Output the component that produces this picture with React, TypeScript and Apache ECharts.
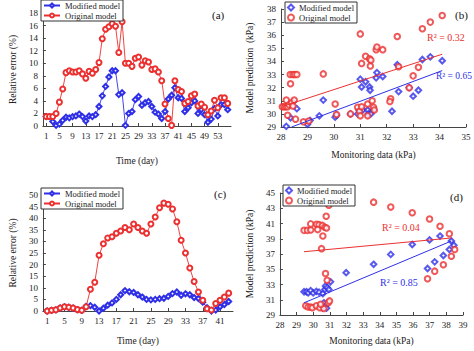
import React, { useEffect, useRef } from "react";
import * as echarts from "echarts";

const FONT = "'Liberation Serif', 'Times New Roman', serif";
const BLUE = "#2f2fe8";
const RED = "#ec2f2f";

// ---------- Panel (a) ----------
const aTicks = [1, 5, 9, 13, 17, 21, 25, 29, 33, 37, 41, 45, 49, 53];
const aModified = [1.5, 1.5, 0.7, 0.1, 0.3, 0.9, 1.4, 1.3, 1.5, 1.6, 1.9, 1.5, 0.8, 1.6, 1.5, 1.8, 3.1, 4.8, 6.3, 7.8, 8.8, 8.8, 5.0, 5.3, 0.1, 2.0, 2.3, 4.2, 4.7, 3.3, 3.7, 3.9, 3.1, 2.2, 1.9, 1.2, 2.3, 4.3, 4.9, 6.1, 4.5, 4.4, 2.3, 2.9, 3.7, 4.0, 2.0, 2.6, 1.8, 0.6, 1.1, 2.8, 1.6, 3.4, 3.4, 2.6];
const aOriginal = [1.5, 1.5, 1.5, 2.0, 3.8, 5.9, 8.5, 8.8, 8.6, 8.6, 8.8, 8.3, 7.6, 8.7, 8.4, 9.0, 10.1, 13.9, 15.4, 15.8, 16.3, 15.9, 11.7, 16.6, 10.0, 10.0, 9.5, 10.8, 11.0, 9.7, 10.4, 10.2, 9.0, 9.1, 8.6, 7.2, 3.5, 1.2, 0.1, 7.2, 5.8, 5.5, 3.6, 3.9, 4.8, 5.1, 3.2, 3.5, 3.0, 1.8, 2.4, 4.1, 2.9, 4.5, 4.5, 3.6];

// ---------- Panel (c) ----------
const cTicks = [1, 5, 9, 13, 17, 21, 25, 29, 33, 37, 41];
const cModified = [0, 0.3, 0.5, 1.3, 1.8, 1.6, 1.3, 0.6, 0.3, 2.0, 2.3, 1.6, 0, 1.2, 2.5, 3.5, 5.0, 7.0, 8.8, 8.3, 8.0, 7.0, 6.0, 5.0, 4.8, 5.0, 5.3, 5.5, 6.3, 7.5, 8.2, 6.8, 7.4, 7.0, 5.8, 5.4, 3.8, 1.4, 0, 0.4, 1.8, 2.8, 4.1];
const cOriginal = [0, 0.3, 0.5, 1.3, 1.8, 1.6, 1.3, 0.6, 0.3, 1.8, 9.4, 12.4, 24, 29, 31.5, 32, 33.5, 34.5, 36, 35, 37.5, 36, 34.5, 33.5, 37.5, 40.5, 44.5, 46.5, 46, 44, 38.5, 30.5, 25, 18.5, 12.7, 8.2, 4.6, 1.0, 0.4, 3.2, 4.6, 6.0, 7.7];

// ---------- Panel (b) ----------
const bModified = [[28.2, 29.05], [28.36, 29.7], [28.45, 30.9], [28.6, 30.4], [29.0, 29.2], [29.1, 29.5], [29.45, 29.85], [29.6, 31.05], [30.05, 29.75], [30.1, 29.9], [30.63, 30.0], [30.9, 30.0], [30.95, 30.3], [31.0, 32.65], [31.05, 32.05], [31.1, 30.3], [31.2, 32.45], [31.28, 30.3], [31.3, 30.0], [31.35, 32.05], [31.37, 31.8], [31.4, 30.0], [31.5, 30.3], [31.6, 32.75], [31.63, 33.15], [31.85, 32.85], [32.2, 30.2], [32.4, 33.75], [32.45, 31.7], [32.85, 32.0], [33.0, 31.35], [33.2, 31.8], [33.35, 34.15], [33.65, 34.35], [34.1, 34.05]];
const bOriginal = [[28.05, 30.55], [28.12, 30.55], [28.18, 30.55], [28.25, 30.55], [28.3, 30.7], [28.2, 31.05], [28.25, 29.9], [28.36, 32.3], [28.35, 33.0], [28.45, 33.0], [28.52, 33.0], [28.6, 33.0], [28.4, 30.85], [28.5, 31.05], [28.45, 30.6], [28.55, 29.6], [28.85, 29.4], [29.05, 29.45], [29.6, 33.05], [30.05, 30.75], [30.1, 29.95], [30.63, 30.0], [30.9, 30.5], [30.97, 30.2], [31.0, 36.1], [31.05, 33.85], [31.05, 30.55], [31.0, 29.85], [31.2, 34.4], [31.28, 29.85], [31.28, 30.75], [31.35, 34.2], [31.4, 34.1], [31.38, 33.65], [31.45, 31.0], [31.5, 30.5], [31.53, 30.3], [31.6, 34.9], [31.63, 35.1], [31.85, 34.9], [32.15, 31.15], [32.12, 30.95], [32.4, 35.9], [32.45, 33.6], [32.85, 32.0], [33.0, 32.9], [33.2, 33.55], [33.35, 36.5], [33.65, 37.0], [34.1, 37.5]];
const bTrendModified = [[28.4, 29.0], [34.1, 33.3]];
const bTrendOriginal = [[28.1, 30.6], [34.1, 34.55]];
const bR2Modified = "R\u00b2 = 0.65";
const bR2Original = "R\u00b2 = 0.32";

// ---------- Panel (d) ----------
const dModified = [[29.45, 32.05], [29.6, 32.05], [29.7, 31.9], [29.85, 32.2], [30.0, 31.9], [30.19, 32.1], [30.35, 32.0], [30.58, 31.8], [30.7, 32.35], [30.74, 32.8], [30.84, 32.6], [30.94, 32.35], [31.04, 33.35], [30.64, 30.6], [30.74, 30.2], [30.55, 29.95], [30.8, 29.9], [31.98, 34.55], [33.63, 35.65], [34.66, 36.95], [35.95, 38.25], [36.99, 38.85], [37.62, 39.35], [37.82, 36.8], [37.3, 35.97], [36.87, 35.1], [38.18, 37.6], [38.3, 38.7], [38.45, 38.15]];
const dOriginal = [[29.45, 40.1], [29.65, 40.1], [29.85, 40.15], [29.85, 40.95], [30.2, 40.9], [30.35, 40.85], [30.55, 40.75], [30.7, 40.5], [30.8, 40.4], [30.27, 40.2], [30.58, 39.35], [30.78, 41.95], [30.94, 43.4], [30.5, 37.7], [30.74, 34.45], [30.84, 33.55], [29.55, 30.2], [29.7, 30.05], [29.85, 30.05], [29.95, 29.95], [30.19, 30.2], [30.4, 29.95], [30.64, 29.85], [30.9, 30.6], [30.98, 30.85], [30.45, 30.4], [33.63, 43.8], [34.66, 43.15], [35.95, 42.4], [36.99, 41.6], [37.62, 40.65], [38.18, 39.65], [38.3, 36.7], [38.5, 37.6], [37.82, 35.6], [37.3, 34.75], [36.87, 33.75]];
const dTrendModified = [[29.45, 30.6], [38.3, 38.7]];
const dTrendOriginal = [[29.45, 37.3], [38.3, 39.1]];
const dR2Modified = "R\u00b2 = 0.85";
const dR2Original = "R\u00b2 = 0.04";

const LEG_MOD = "Modified model";
const LEG_ORI = "Original model";

function axisBase(extra: any) {
  return {
    axisLine: { show: true, onZero: false, lineStyle: { color: "#444", width: 1 } },
    axisTick: { show: true, inside: true, length: 3, lineStyle: { color: "#444" } },
    axisLabel: { fontFamily: FONT, fontSize: 9, color: "#222", margin: 5 },
    splitLine: { show: false },
    nameLocation: "middle",
    nameTextStyle: { fontFamily: FONT, fontSize: 9.5, color: "#222" },
    ...extra,
  };
}

function legend(left: number, top: number, isLine: boolean) {
  return {
    orient: "vertical",
    left,
    top,
    data: [LEG_MOD, LEG_ORI],
    backgroundColor: "#fff",
    borderColor: "#333",
    borderWidth: 1,
    padding: [1, 3, 1, 2],
    itemGap: 1,
    itemWidth: isLine ? 16 : 6,
    itemHeight: isLine ? 5 : 6,
    textStyle: { fontFamily: FONT, fontSize: 8.5, color: "#222", lineHeight: 9 },
  };
}

function textEl(text: string, x: number, y: number, color: string, size: number) {
  return {
    type: "text",
    x,
    y,
    style: { text, fill: color, font: `${size}px ${FONT}`, textVerticalAlign: "middle" },
  };
}

function lineSeries(name: string, values: number[], color: string, symbol: string) {
  return {
    type: "line",
    name,
    data: values.map((v, i) => [i + 1, v]),
    symbol,
    symbolSize: 5,
    showAllSymbol: true,
    lineStyle: { color, width: 0.9 },
    itemStyle: { color, borderColor: color, borderWidth: 0.8 },
  };
}

function scatterSeries(name: string, pts: number[][], color: string, symbol: string) {
  return {
    type: "scatter",
    name,
    data: pts,
    symbol,
    symbolSize: 5.5,
    itemStyle: { color, borderColor: color, borderWidth: 0.8 },
  };
}

function trendSeries(pts: number[][], color: string) {
  return {
    type: "line",
    data: pts,
    symbol: "none",
    lineStyle: { color, width: 1 },
    silent: true,
  };
}

function optA() {
  return {
    animation: false,
    grid: { left: 33, top: 13, width: 198, height: 113 },
    legend: legend(41, 0, true),
    xAxis: axisBase({
      type: "value", min: 0, max: 57, name: "Time (day)", nameGap: 30,
      axisLabel: { fontFamily: FONT, fontSize: 9, color: "#222", margin: 5, customValues: aTicks },
      axisTick: { show: true, inside: true, length: 3, lineStyle: { color: "#444" }, customValues: aTicks },
    }),
    yAxis: axisBase({ type: "value", min: 0, max: 18, interval: 2, name: "Relative error (%)", nameGap: 20 }),
    series: [lineSeries(LEG_MOD, aModified, BLUE, "emptyDiamond"), lineSeries(LEG_ORI, aOriginal, RED, "emptyCircle")],
    graphic: [textEl("(a)", 212, 15, "#111", 11)],
  };
}

function optB() {
  return {
    animation: false,
    grid: { left: 41, top: 9, width: 188, height: 118 },
    legend: legend(48, 2, false),
    xAxis: axisBase({ type: "value", min: 28, max: 35, interval: 1, name: "Monitoring data (kPa)", nameGap: 23 }),
    yAxis: axisBase({ type: "value", min: 29, max: 38, interval: 1, name: "Model prediction  (kPa)", nameGap: 26 }),
    series: [
      scatterSeries(LEG_MOD, bModified, BLUE, "emptyDiamond"),
      scatterSeries(LEG_ORI, bOriginal, RED, "emptyCircle"),
      trendSeries(bTrendModified, BLUE),
      trendSeries(bTrendOriginal, RED),
    ],
    graphic: [
      textEl("(b)", 218, 15, "#111", 11),
      textEl(bR2Original, 190, 37, RED, 10),
      textEl(bR2Modified, 199, 76, BLUE, 9.5),
    ],
  };
}

function optC() {
  return {
    animation: false,
    grid: { left: 30, top: 20, width: 203, height: 119 },
    legend: legend(41, 13, true),
    xAxis: axisBase({
      type: "value", min: 0, max: 44, name: "Time (day)", nameGap: 25,
      axisLabel: { fontFamily: FONT, fontSize: 9, color: "#222", margin: 5, customValues: cTicks },
      axisTick: { show: true, inside: true, length: 3, lineStyle: { color: "#444" }, customValues: cTicks },
    }),
    yAxis: axisBase({ type: "value", min: 0, max: 50, interval: 5, name: "Relative error (%)", nameGap: 18 }),
    series: [lineSeries(LEG_MOD, cModified, BLUE, "emptyDiamond"), lineSeries(LEG_ORI, cOriginal, RED, "emptyCircle")],
    graphic: [textEl("(c)", 214, 19, "#111", 11)],
  };
}

function optD() {
  return {
    animation: false,
    grid: { left: 41, top: 18, width: 185, height: 122 },
    legend: legend(46, 10, false),
    xAxis: axisBase({ type: "value", min: 28, max: 39, interval: 1, name: "Monitoring data (kPa)", nameGap: 21 }),
    yAxis: axisBase({ type: "value", min: 29, max: 45, interval: 2, name: "Model prediction (kPa)", nameGap: 24 }),
    series: [
      scatterSeries(LEG_MOD, dModified, BLUE, "emptyDiamond"),
      scatterSeries(LEG_ORI, dOriginal, RED, "emptyCircle"),
      trendSeries(dTrendModified, BLUE),
      trendSeries(dTrendOriginal, RED),
    ],
    graphic: [
      textEl("(d)", 213, 22, "#111", 11),
      textEl(dR2Original, 145, 52, RED, 10),
      textEl(dR2Modified, 143, 107, BLUE, 10),
    ],
  };
}

export default function App() {
  const r1 = useRef<HTMLDivElement>(null);
  const r2 = useRef<HTMLDivElement>(null);
  const r3 = useRef<HTMLDivElement>(null);
  const r4 = useRef<HTMLDivElement>(null);
  useEffect(() => {
    const refs = [r1, r2, r3, r4];
    const opts = [optA(), optB(), optC(), optD()];
    const charts = refs.map((r, i) => {
      const c = echarts.init(r.current as HTMLDivElement, null, { renderer: "svg" });
      c.setOption(opts[i] as any);
      return c;
    });
    return () => charts.forEach((c) => c.dispose());
  }, []);
  return (
    <div style={{ position: "absolute", left: 0, top: 0, width: 474, height: 351, background: "#fff" }}>
      <div ref={r1} style={{ position: "absolute", left: 0, top: 0, width: 237, height: 175 }} />
      <div ref={r2} style={{ position: "absolute", left: 237, top: 0, width: 237, height: 175 }} />
      <div ref={r3} style={{ position: "absolute", left: 0, top: 175, width: 237, height: 176 }} />
      <div ref={r4} style={{ position: "absolute", left: 237, top: 175, width: 237, height: 176 }} />
    </div>
  );
}
